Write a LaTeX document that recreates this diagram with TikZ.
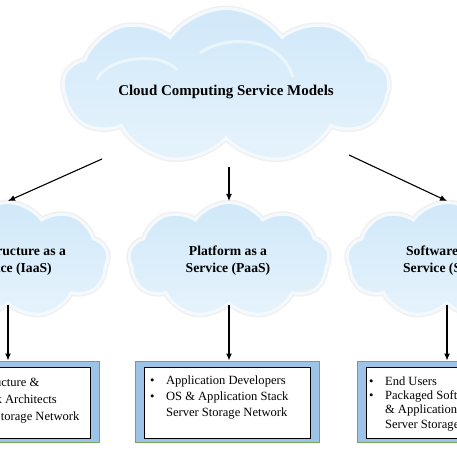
\documentclass[tikz,border=0pt]{standalone}
\usepackage{fontspec}
\setmainfont{Liberation Serif}
\usetikzlibrary{shapes.symbols,arrows.meta}
\definecolor{cloudtop}{HTML}{D0E8F9}
\definecolor{cloudbottom}{HTML}{E6F3FC}
\definecolor{cloudedge}{HTML}{F4F9FD}
\definecolor{boxblue}{HTML}{9DC3E6}
\definecolor{boxgreen}{HTML}{77A55A}

\begin{document}
\begin{tikzpicture}[x=1bp,y=-1bp,
    cloudnode/.style={cloud, cloud puffs=9, cloud puff arc=110, aspect=1.7,
        top color=cloudtop, bottom color=cloudbottom, draw=cloudedge, line width=3bp,
        preaction={draw=black!6, line width=6bp}, align=center, inner sep=0pt},
    shine/.style={draw=white, opacity=0.5, line width=3bp},
    cloudtext/.style={align=center, font=\fontsize{13.7}{17}\selectfont\bfseries},
    framebox/.style={fill=boxblue, draw=boxgreen, line width=1bp},
    listbox/.style={fill=white, draw=black, line width=0.8bp},
    listtext/.style={inner sep=0pt, anchor=base west, font=\fontsize{12.6}{16}\selectfont},
    arr/.style={-{Latex[length=7bp,width=6bp]}, line width=1.1bp}]
    \useasboundingbox (0,0) rectangle (457,457);
    \clip (0,0) rectangle (457,457);

    % clouds
    \node[cloudnode, minimum width=325bp, minimum height=155bp] (models) at (226,86) {};
    \node[cloudnode, minimum width=200bp, minimum height=115bp] (iaas) at (8,260) {};
    \node[cloudnode, minimum width=200bp, minimum height=115bp] (paas) at (229,260) {};
    \node[cloudnode, minimum width=200bp, minimum height=115bp] (saas) at (447,260) {};
    % inner puff outlines
    \draw[shine] (97,80) .. controls (105,58) and (160,50) .. (177,70);
    \draw[shine] (200,53) .. controls (225,35) and (280,35) .. (293,77);
    \node[cloudtext, font=\fontsize{15}{18}\selectfont\bfseries] (models-label) at (226,92) {Cloud Computing Service Models};
    \node[cloudtext] (iaas-label) at (11,261) {Infrastructure as a\\Service (IaaS)};
    \node[cloudtext] (paas-label) at (228,261) {Platform as a\\Service (PaaS)};
    \node[cloudtext] (saas-label) at (445,261) {Software as a\\Service (SaaS)};

    % boxes
    \node[framebox, minimum width=188bp, minimum height=81bp] (iaas-box) at (5,401.5) {};
    \node[listbox, minimum width=170bp, minimum height=71bp] (iaas-list) at (5,403) {};
    \node[framebox, minimum width=184bp, minimum height=81bp] (paas-box) at (227,401.5) {};
    \node[listbox, minimum width=166bp, minimum height=71bp] (paas-list) at (227,403) {};
    \node[framebox, minimum width=184bp, minimum height=81bp] (saas-box) at (449,401.5) {};
    \node[listbox, minimum width=166bp, minimum height=71bp] (saas-list) at (449,403) {};

    \node[listtext, font=\fontsize{12.6}{17}\selectfont] (iaas-items) at (-58,386.5) {\begin{tabular}[t]{@{}l@{\hspace{11.5bp}}l@{}}
        \textbullet & Infrastructure \&\\
                    & Network Architects\\
        \textbullet & Server Storage Network
    \end{tabular}};
    \node[listtext] (paas-items) at (150,384.5) {\begin{tabular}[t]{@{}l@{\hspace{11.5bp}}l@{}}
        \textbullet & Application Developers\\
        \textbullet & OS \& Application Stack\\
                    & Server Storage Network
    \end{tabular}};
    \node[listtext, font=\fontsize{12.6}{14.5}\selectfont] (saas-items) at (369,385) {\begin{tabular}[t]{@{}l@{\hspace{11.5bp}}l@{}}
        \textbullet & End Users\\
        \textbullet & Packaged Software\\
                    & \& Applications\\
                    & Server Storage Network
    \end{tabular}};

    % arrows
    \coordinate (models-left) at (102,159);
    \coordinate (models-mid) at (229,167);
    \coordinate (models-right) at (349,155);
    \draw[arr] (models-left) -- (iaas.north);
    \draw[arr] (models-mid) -- (paas.north);
    \draw[arr] (models-right) -- (saas.north);
    \draw[arr] (iaas.south) -- (iaas.south |- iaas-box.north);
    \draw[arr] (paas.south) -- (paas.south |- paas-box.north);
    \draw[arr] (saas.south) -- (saas.south |- saas-box.north);
\end{tikzpicture}
\end{document}
